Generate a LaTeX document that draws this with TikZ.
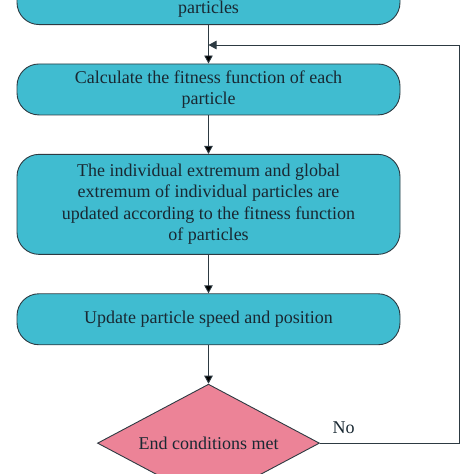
\documentclass[tikz,border=0pt]{standalone}
\usepackage{fontspec}
\setmainfont{Liberation Serif}
\usetikzlibrary{arrows.meta, shapes.geometric, positioning}

\definecolor{boxcyan}{RGB}{64,188,208}
\definecolor{condpink}{RGB}{236,131,151}
\definecolor{linegray}{RGB}{45,58,66}
\definecolor{textdark}{RGB}{25,40,50}

\begin{document}
\begin{tikzpicture}[>={Triangle[length=8pt, width=8.5pt]}, node distance = 38.5pt, line width = 0.9pt,
		font = \fontsize{18}{21.5}\selectfont, text = textdark,
		process/.style = {draw = linegray, fill = boxcyan, rounded corners = 22pt, minimum width = 383pt, minimum height = 51pt, align = center},
		decision/.style = {diamond, aspect = 1.88, draw = linegray, fill = condpink, minimum width = 222pt, minimum height = 118pt, inner sep = 0pt}]
		\useasboundingbox (0,0) rectangle (474pt,-474pt);
		\clip (0,0) rectangle (474pt,-474pt);
		\node[process, anchor = south] (init) at (208.5pt,-25pt) {\phantom{Ip}\\particles};
		\node[process, below = of init] (fitness) {Calculate the fitness function of each\\particle};
		\node[process, below = of fitness, minimum height = 100pt] (extremum) {The individual extremum and global\\extremum of individual particles are\\updated according to the fitness function\\of particles};
		\node[process, below = of extremum] (update) {Update particle speed and position};
		\node[decision, below = of update] (endcond) {End conditions met};
		\coordinate[below = 20pt of init] (join);
		
		\path[->, draw = linegray]
		(init)     edge (fitness)
		(fitness)  edge (extremum)
		(extremum) edge (update)
		(update)   edge (endcond)
		;
		\draw[->, linegray] (endcond.east) -- node[above = 6pt, pos = 0.17, text = textdark] {No} ++(139pt,0) |- (join);
\end{tikzpicture}
\end{document}
